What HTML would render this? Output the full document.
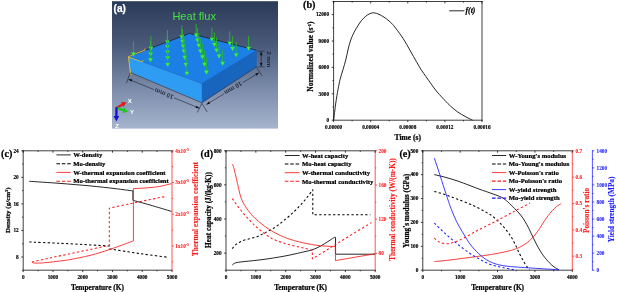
<!DOCTYPE html>
<html><head><meta charset="utf-8"><title>Figure</title>
<style>html,body{margin:0;padding:0;background:#fff}svg{display:block;filter:blur(0.27px)}</style>
</head><body>
<svg width="617" height="292" viewBox="0 0 617 292">
<defs>
<linearGradient id="bg" x1="0" y1="0" x2="0" y2="1"><stop offset="0" stop-color="#2b3a57"/><stop offset="0.35" stop-color="#4a5a7a"/><stop offset="0.7" stop-color="#7d8dac"/><stop offset="1" stop-color="#a6b4cd"/></linearGradient>
</defs>
<rect width="617" height="292" fill="#fff"/>
<g id="pa">
<rect x="112" y="1.2" width="166" height="127.4" fill="url(#bg)"/>
<polygon points="128.7,56.6 189.5,33.4 256.7,50.3 201.8,83.6" fill="#1b7fe6" />
<polygon points="128.7,56.6 201.8,83.6 201.8,102.8 130.2,72.4" fill="#2f9cf4" />
<polygon points="201.8,83.6 256.7,50.3 256.7,66.8 201.8,102.8" fill="#1865bd" />
<path d="M128.7 56.6 L189.5 33.4 L256.7 50.3" fill="none" stroke="#1c2233" stroke-width="0.8" stroke-linejoin="round" />
<path d="M130.2 72.4 L201.8 102.8" fill="none" stroke="#4c4a5a" stroke-width="0.9" stroke-linejoin="round" />
<path d="M201.8 102.8 L256.7 66.8" fill="none" stroke="#2a3550" stroke-width="0.7" stroke-linejoin="round" />
<path d="M128.7 56.6 L201.8 83.6 L256.7 50.3" fill="none" stroke="#1668c8" stroke-width="0.6" stroke-linejoin="round" />
<path d="M130.5 73.4 L128.4 56.7 L144.8 50.2" fill="none" stroke="#e6c42a" stroke-width="0.9" stroke-linejoin="round" />
<path d="M128.6 57 L142.3 61.9" fill="none" stroke="#e6c42a" stroke-width="0.8" stroke-linejoin="round" />
<line x1="144.8" y1="50.6" x2="145" y2="48.6" stroke="#e6c42a" stroke-width="0.8" />
<line x1="142.3" y1="61.9" x2="143.2" y2="60" stroke="#e6c42a" stroke-width="0.8" />
<line x1="130.5" y1="73.4" x2="131.2" y2="75.2" stroke="#e6c42a" stroke-width="0.9" />
<line x1="196.2" y1="23.78" x2="196.2" y2="35.3" stroke="#2cb82c" stroke-width="1.0" stroke-opacity="0.85"/>
<polygon points="193.9,33.6 198.5,33.6 196.2,37.5" fill="#3af03a" />
<line x1="181.8" y1="25.34" x2="181.8" y2="37" stroke="#2cb82c" stroke-width="1.0" stroke-opacity="0.85"/>
<polygon points="179.5,35.3 184.1,35.3 181.8,39.2" fill="#3af03a" />
<line x1="211.9" y1="27.55" x2="211.9" y2="39.4" stroke="#2cb82c" stroke-width="1.0" stroke-opacity="0.85"/>
<polygon points="209.6,37.7 214.2,37.7 211.9,41.6" fill="#3af03a" />
<line x1="197.5" y1="28.38" x2="197.5" y2="40.3" stroke="#2cb82c" stroke-width="1.0" stroke-opacity="0.85"/>
<polygon points="195.2,38.6 199.8,38.6 197.5,42.5" fill="#3af03a" />
<line x1="182.5" y1="29.48" x2="182.5" y2="41.5" stroke="#2cb82c" stroke-width="1.0" stroke-opacity="0.85"/>
<polygon points="180.2,39.8 184.8,39.8 182.5,43.7" fill="#3af03a" />
<line x1="167.4" y1="30.03" x2="167.4" y2="42.1" stroke="#2cb82c" stroke-width="1.0" stroke-opacity="0.85"/>
<polygon points="165.1,40.4 169.7,40.4 167.4,44.3" fill="#3af03a" />
<line x1="229.7" y1="31.32" x2="229.7" y2="43.5" stroke="#2cb82c" stroke-width="1.0" stroke-opacity="0.85"/>
<polygon points="227.4,41.8 232,41.8 229.7,45.7" fill="#3af03a" />
<line x1="214.4" y1="32.33" x2="214.4" y2="44.6" stroke="#2cb82c" stroke-width="1.0" stroke-opacity="0.85"/>
<polygon points="212.1,42.9 216.7,42.9 214.4,46.8" fill="#3af03a" />
<line x1="198.8" y1="33.16" x2="198.8" y2="45.5" stroke="#2cb82c" stroke-width="1.0" stroke-opacity="0.85"/>
<polygon points="196.5,43.8 201.1,43.8 198.8,47.7" fill="#3af03a" />
<line x1="183.2" y1="33.9" x2="183.2" y2="46.3" stroke="#2cb82c" stroke-width="1.0" stroke-opacity="0.85"/>
<polygon points="180.9,44.6 185.5,44.6 183.2,48.5" fill="#3af03a" />
<line x1="167.4" y1="34.45" x2="167.4" y2="46.9" stroke="#2cb82c" stroke-width="1.0" stroke-opacity="0.85"/>
<polygon points="165.1,45.2 169.7,45.2 167.4,49.1" fill="#3af03a" />
<line x1="150.9" y1="35.92" x2="150.9" y2="48.5" stroke="#2cb82c" stroke-width="1.0" stroke-opacity="0.85"/>
<polygon points="148.6,46.8 153.2,46.8 150.9,50.7" fill="#3af03a" />
<line x1="248.6" y1="35.92" x2="248.6" y2="48.5" stroke="#2cb82c" stroke-width="1.0" stroke-opacity="0.85"/>
<polygon points="246.3,46.8 250.9,46.8 248.6,50.7" fill="#3af03a" />
<line x1="232.6" y1="36.2" x2="232.6" y2="48.8" stroke="#2cb82c" stroke-width="1.0" stroke-opacity="0.85"/>
<polygon points="230.3,47.1 234.9,47.1 232.6,51" fill="#3af03a" />
<line x1="216.5" y1="37.67" x2="216.5" y2="50.4" stroke="#2cb82c" stroke-width="1.0" stroke-opacity="0.85"/>
<polygon points="214.2,48.7 218.8,48.7 216.5,52.6" fill="#3af03a" />
<line x1="200.4" y1="38.4" x2="200.4" y2="51.2" stroke="#2cb82c" stroke-width="1.0" stroke-opacity="0.85"/>
<polygon points="198.1,49.5 202.7,49.5 200.4,53.4" fill="#3af03a" />
<line x1="184" y1="38.5" x2="184" y2="51.3" stroke="#2cb82c" stroke-width="1.0" stroke-opacity="0.85"/>
<polygon points="181.7,49.6 186.3,49.6 184,53.5" fill="#3af03a" />
<line x1="167.5" y1="39.23" x2="167.5" y2="52.1" stroke="#2cb82c" stroke-width="1.0" stroke-opacity="0.85"/>
<polygon points="165.2,50.4 169.8,50.4 167.5,54.3" fill="#3af03a" />
<line x1="133.4" y1="41.26" x2="133.4" y2="54.3" stroke="#2cb82c" stroke-width="1.0" stroke-opacity="0.85"/>
<polygon points="131.1,52.6 135.7,52.6 133.4,56.5" fill="#3af03a" />
<line x1="150.7" y1="41.26" x2="150.7" y2="54.3" stroke="#2cb82c" stroke-width="1.0" stroke-opacity="0.85"/>
<polygon points="148.4,52.6 153,52.6 150.7,56.5" fill="#3af03a" />
<line x1="236.2" y1="41.99" x2="236.2" y2="55.1" stroke="#2cb82c" stroke-width="1.0" stroke-opacity="0.85"/>
<polygon points="233.9,53.4 238.5,53.4 236.2,57.3" fill="#3af03a" />
<line x1="219" y1="43" x2="219" y2="56.2" stroke="#2cb82c" stroke-width="1.0" stroke-opacity="0.85"/>
<polygon points="216.7,54.5 221.3,54.5 219,58.4" fill="#3af03a" />
<line x1="202.4" y1="43.74" x2="202.4" y2="57" stroke="#2cb82c" stroke-width="1.0" stroke-opacity="0.85"/>
<polygon points="200.1,55.3 204.7,55.3 202.4,59.2" fill="#3af03a" />
<line x1="184.8" y1="44.2" x2="184.8" y2="57.5" stroke="#2cb82c" stroke-width="1.0" stroke-opacity="0.85"/>
<polygon points="182.5,55.8 187.1,55.8 184.8,59.7" fill="#3af03a" />
<line x1="167.6" y1="44.66" x2="167.6" y2="58" stroke="#2cb82c" stroke-width="1.0" stroke-opacity="0.85"/>
<polygon points="165.3,56.3 169.9,56.3 167.6,60.2" fill="#3af03a" />
<line x1="150.5" y1="46.5" x2="150.5" y2="60" stroke="#2cb82c" stroke-width="1.0" stroke-opacity="0.85"/>
<polygon points="148.2,58.3 152.8,58.3 150.5,62.2" fill="#3af03a" />
<line x1="222.6" y1="49.72" x2="222.6" y2="63.5" stroke="#2cb82c" stroke-width="1.0" stroke-opacity="0.85"/>
<polygon points="220.3,61.8 224.9,61.8 222.6,65.7" fill="#3af03a" />
<line x1="204.5" y1="50.55" x2="204.5" y2="64.4" stroke="#2cb82c" stroke-width="1.0" stroke-opacity="0.85"/>
<polygon points="202.2,62.7 206.8,62.7 204.5,66.6" fill="#3af03a" />
<line x1="167.7" y1="50.73" x2="167.7" y2="64.6" stroke="#2cb82c" stroke-width="1.0" stroke-opacity="0.85"/>
<polygon points="165.4,62.9 170,62.9 167.7,66.8" fill="#3af03a" />
<line x1="185.9" y1="50.82" x2="185.9" y2="64.7" stroke="#2cb82c" stroke-width="1.0" stroke-opacity="0.85"/>
<polygon points="183.6,63 188.2,63 185.9,66.9" fill="#3af03a" />
<line x1="206.5" y1="57.82" x2="206.5" y2="72.3" stroke="#2cb82c" stroke-width="1.0" stroke-opacity="0.85"/>
<polygon points="204.2,70.6 208.8,70.6 206.5,74.5" fill="#3af03a" />
<line x1="186.9" y1="58.83" x2="186.9" y2="73.4" stroke="#2cb82c" stroke-width="1.0" stroke-opacity="0.85"/>
<polygon points="184.6,71.7 189.2,71.7 186.9,75.6" fill="#3af03a" />
<line x1="128.5" y1="79.2" x2="154.02" y2="89.64" stroke="#1e2230" stroke-width="0.6" />
<line x1="174.01" y1="97.81" x2="199.4" y2="108.2" stroke="#1e2230" stroke-width="0.6" />
<polygon points="128.5,79.2 131.34,81.77 132.32,79.36" fill="#0d0f18" />
<polygon points="199.4,108.2 195.58,108.04 196.56,105.63" fill="#0d0f18" />
<text x="163.9" y="94" font-family='"Liberation Sans", sans-serif' font-size="6.2" font-weight="bold" fill="#1a1e2c" text-anchor="middle" transform="rotate(202.3 163.9 94)" dominant-baseline="central" fill-opacity="0.88">10 mm</text>
<line x1="206.4" y1="104.5" x2="224.07" y2="93.85" stroke="#1e2230" stroke-width="0.6" />
<line x1="242.57" y1="82.7" x2="259" y2="72.8" stroke="#1e2230" stroke-width="0.6" />
<polygon points="206.4,104.5 210.15,103.76 208.81,101.53" fill="#0d0f18" />
<polygon points="259,72.8 256.59,75.77 255.25,73.54" fill="#0d0f18" />
<text x="233.4" y="88.4" font-family='"Liberation Sans", sans-serif' font-size="6.2" font-weight="bold" fill="#1a1e2c" text-anchor="middle" transform="rotate(149 233.4 88.4)" dominant-baseline="central" fill-opacity="0.88">10 mm</text>
<line x1="130.2" y1="72.9" x2="126.4" y2="83.2" stroke="#1e2230" stroke-width="0.6" />
<line x1="201.8" y1="103.3" x2="197.4" y2="112.4" stroke="#1e2230" stroke-width="0.6" />
<line x1="201.8" y1="103.3" x2="207.2" y2="112" stroke="#1e2230" stroke-width="0.6" />
<line x1="256.7" y1="67.3" x2="262.2" y2="76" stroke="#1e2230" stroke-width="0.6" />
<line x1="261.2" y1="51.4" x2="261.2" y2="66.5" stroke="#1e2230" stroke-width="0.6" />
<line x1="257.5" y1="51.2" x2="264.5" y2="51.2" stroke="#1e2230" stroke-width="0.5" />
<line x1="257.5" y1="66.8" x2="264.5" y2="66.8" stroke="#1e2230" stroke-width="0.5" />
<polygon points="261.2,51.6 259.9,55.2 262.5,55.2" fill="#0d0f18" />
<polygon points="261.2,66.4 259.9,62.8 262.5,62.8" fill="#0d0f18" />
<text x="269.8" y="59.3" font-family='"Liberation Sans", sans-serif' font-size="6.2" font-weight="bold" fill="#1a1e2c" text-anchor="middle" transform="rotate(90 269.8 59.3)" dominant-baseline="central" fill-opacity="0.88">2 mm</text>
<line x1="116.4" y1="107.9" x2="122.6" y2="104.5" stroke="#e41a1a" stroke-width="2.3" />
<polygon points="126.6,102.2 121,102 123.2,106.9" fill="#e41a1a" />
<line x1="116.4" y1="107.9" x2="124" y2="110.3" stroke="#1cc81c" stroke-width="2.3" />
<polygon points="128,111.4 123.9,107.6 122.6,112.9" fill="#1cc81c" />
<line x1="116.4" y1="107.3" x2="116.4" y2="116.6" stroke="#1212d8" stroke-width="2.3" />
<polygon points="116.4,121.6 113.6,116 119.2,116" fill="#1212d8" />
<text x="129.7" y="103.3" font-family='"Liberation Sans", sans-serif' font-size="6" font-weight="bold" fill="#fff" text-anchor="middle" >X</text>
<text x="132" y="114.2" font-family='"Liberation Sans", sans-serif' font-size="6" font-weight="bold" fill="#fff" text-anchor="middle" >Y</text>
<text x="117" y="128" font-family='"Liberation Sans", sans-serif' font-size="6" font-weight="bold" fill="#fff" text-anchor="middle" >Z</text>
<text x="113.6" y="11.6" font-family='"Liberation Sans", sans-serif' font-size="10" font-weight="bold" fill="#fff" text-anchor="start" stroke="#fff" stroke-width="0.25">(a)</text>
<text x="172.4" y="20.1" font-family='"Liberation Sans", sans-serif' font-size="11.2" font-weight="normal" fill="#40e640" text-anchor="start" textLength="43.6" lengthAdjust="spacingAndGlyphs">Heat flux</text>
</g>
<g id="pb">
<path d="M333.6 1.5 L333.6 120.2 L482 120.2" fill="none" stroke="#000" stroke-width="0.75" stroke-linejoin="round" stroke-linecap="square"/>
<line x1="333.6" y1="1.5" x2="482" y2="1.5" stroke="#000" stroke-width="0.75" stroke-linecap="square"/>
<line x1="482" y1="1.5" x2="482" y2="120.2" stroke="#000" stroke-width="0.75" stroke-linecap="square"/>
<line x1="333.6" y1="120.2" x2="333.6" y2="122.1" stroke="#000" stroke-width="0.75" />
<line x1="333.6" y1="1.5" x2="333.6" y2="3.4" stroke="#000" stroke-width="0.75" />
<text x="333.6" y="128.5" font-family='"Liberation Serif", serif' font-size="5.25" font-weight="bold" fill="#000" text-anchor="middle" stroke="#000" stroke-width="0.16" >0.00000</text>
<line x1="352.15" y1="120.2" x2="352.15" y2="121.3" stroke="#000" stroke-width="0.75" />
<line x1="352.15" y1="1.5" x2="352.15" y2="2.6" stroke="#000" stroke-width="0.75" />
<line x1="370.7" y1="120.2" x2="370.7" y2="122.1" stroke="#000" stroke-width="0.75" />
<line x1="370.7" y1="1.5" x2="370.7" y2="3.4" stroke="#000" stroke-width="0.75" />
<text x="370.7" y="128.5" font-family='"Liberation Serif", serif' font-size="5.25" font-weight="bold" fill="#000" text-anchor="middle" stroke="#000" stroke-width="0.16" >0.00004</text>
<line x1="389.25" y1="120.2" x2="389.25" y2="121.3" stroke="#000" stroke-width="0.75" />
<line x1="389.25" y1="1.5" x2="389.25" y2="2.6" stroke="#000" stroke-width="0.75" />
<line x1="407.8" y1="120.2" x2="407.8" y2="122.1" stroke="#000" stroke-width="0.75" />
<line x1="407.8" y1="1.5" x2="407.8" y2="3.4" stroke="#000" stroke-width="0.75" />
<text x="407.8" y="128.5" font-family='"Liberation Serif", serif' font-size="5.25" font-weight="bold" fill="#000" text-anchor="middle" stroke="#000" stroke-width="0.16" >0.00008</text>
<line x1="426.35" y1="120.2" x2="426.35" y2="121.3" stroke="#000" stroke-width="0.75" />
<line x1="426.35" y1="1.5" x2="426.35" y2="2.6" stroke="#000" stroke-width="0.75" />
<line x1="444.9" y1="120.2" x2="444.9" y2="122.1" stroke="#000" stroke-width="0.75" />
<line x1="444.9" y1="1.5" x2="444.9" y2="3.4" stroke="#000" stroke-width="0.75" />
<text x="444.9" y="128.5" font-family='"Liberation Serif", serif' font-size="5.25" font-weight="bold" fill="#000" text-anchor="middle" stroke="#000" stroke-width="0.16" >0.00012</text>
<line x1="463.45" y1="120.2" x2="463.45" y2="121.3" stroke="#000" stroke-width="0.75" />
<line x1="463.45" y1="1.5" x2="463.45" y2="2.6" stroke="#000" stroke-width="0.75" />
<line x1="482" y1="120.2" x2="482" y2="122.1" stroke="#000" stroke-width="0.75" />
<line x1="482" y1="1.5" x2="482" y2="3.4" stroke="#000" stroke-width="0.75" />
<text x="482" y="128.5" font-family='"Liberation Serif", serif' font-size="5.25" font-weight="bold" fill="#000" text-anchor="middle" stroke="#000" stroke-width="0.16" >0.00016</text>
<line x1="333.6" y1="120.2" x2="331.7" y2="120.2" stroke="#000" stroke-width="0.75" />
<text x="329.1" y="122" font-family='"Liberation Serif", serif' font-size="5.25" font-weight="bold" fill="#000" text-anchor="end" stroke="#000" stroke-width="0.16" >0</text>
<line x1="333.6" y1="93.8" x2="331.7" y2="93.8" stroke="#000" stroke-width="0.75" />
<text x="329.1" y="95.6" font-family='"Liberation Serif", serif' font-size="5.25" font-weight="bold" fill="#000" text-anchor="end" stroke="#000" stroke-width="0.16" >3000</text>
<line x1="333.6" y1="67.4" x2="331.7" y2="67.4" stroke="#000" stroke-width="0.75" />
<text x="329.1" y="69.2" font-family='"Liberation Serif", serif' font-size="5.25" font-weight="bold" fill="#000" text-anchor="end" stroke="#000" stroke-width="0.16" >6000</text>
<line x1="333.6" y1="41" x2="331.7" y2="41" stroke="#000" stroke-width="0.75" />
<text x="329.1" y="42.8" font-family='"Liberation Serif", serif' font-size="5.25" font-weight="bold" fill="#000" text-anchor="end" stroke="#000" stroke-width="0.16" >9000</text>
<line x1="333.6" y1="14.6" x2="331.7" y2="14.6" stroke="#000" stroke-width="0.75" />
<text x="329.1" y="16.4" font-family='"Liberation Serif", serif' font-size="5.25" font-weight="bold" fill="#000" text-anchor="end" stroke="#000" stroke-width="0.16" >12000</text>
<line x1="333.6" y1="107" x2="332.5" y2="107" stroke="#000" stroke-width="0.75" />
<line x1="333.6" y1="80.6" x2="332.5" y2="80.6" stroke="#000" stroke-width="0.75" />
<line x1="333.6" y1="54.2" x2="332.5" y2="54.2" stroke="#000" stroke-width="0.75" />
<line x1="333.6" y1="27.8" x2="332.5" y2="27.8" stroke="#000" stroke-width="0.75" />
<line x1="333.6" y1="1.4" x2="332.5" y2="1.4" stroke="#000" stroke-width="0.75" />
<path d="M333.6 120.2 C333.97 117.33 335.07 108.12 335.8 103 C336.53 97.88 337.27 93.5 338 89.5 C338.73 85.5 339.37 82.33 340.2 79 C341.03 75.67 342.07 72.7 343 69.5 C343.93 66.3 344.93 63.22 345.8 59.8 C346.67 56.38 347.38 52.3 348.2 49 C349.02 45.7 349.73 42.75 350.7 40 C351.67 37.25 352.82 34.85 354 32.5 C355.18 30.15 356.53 27.92 357.8 25.9 C359.07 23.88 360.27 22.02 361.6 20.4 C362.93 18.78 364.5 17.28 365.8 16.2 C367.1 15.12 368.23 14.47 369.4 13.9 C370.57 13.33 371.6 12.88 372.8 12.8 C374 12.72 375.15 12.93 376.6 13.4 C378.05 13.87 379.85 14.68 381.5 15.6 C383.15 16.52 384.82 17.62 386.5 18.9 C388.18 20.18 390.02 21.68 391.6 23.3 C393.18 24.92 394.07 26.05 396 28.6 C397.93 31.15 400.8 34.87 403.2 38.6 C405.6 42.33 408.2 47.17 410.4 51 C412.6 54.83 414.6 58.47 416.4 61.6 C418.2 64.73 419.6 67.3 421.2 69.8 C422.8 72.3 424.32 74.2 426 76.6 C427.68 79 429.43 81.63 431.3 84.2 C433.17 86.77 434.75 89.1 437.2 92 C439.65 94.9 443.53 99.03 446 101.6 C448.47 104.17 450.03 105.67 452 107.4 C453.97 109.13 455.63 110.5 457.8 112 C459.97 113.5 462.53 115.03 465 116.4 C467.47 117.77 471.33 119.57 472.6 120.2" fill="none" stroke="#000" stroke-width="0.85" stroke-linejoin="round" />
<line x1="449.2" y1="10.8" x2="464.4" y2="10.8" stroke="#000" stroke-width="0.85" />
<text x="465.6" y="13" font-family='"Liberation Serif", serif' font-size="7.6" font-weight="bold" fill="#000" text-anchor="start" font-style="italic" stroke="#000" stroke-width="0.22" >f(t)</text>
<text x="303" y="8" font-family='"Liberation Serif", serif' font-size="10.2" font-weight="bold" fill="#000" text-anchor="start" stroke="#000" stroke-width="0.22" >(b)</text>
<text x="407.8" y="140.3" font-family='"Liberation Serif", serif' font-size="7.55" font-weight="bold" fill="#000" text-anchor="middle" stroke="#000" stroke-width="0.22" >Time (s)</text>
<text x="313.3" y="56.6" font-family='"Liberation Serif", serif' font-size="7.55" font-weight="bold" fill="#000" text-anchor="middle" stroke="#000" stroke-width="0.22" transform="rotate(-90 313.3 56.6)" >Normalized value (s<tspan dy="-2.5" font-size="4.4">-1</tspan><tspan dy="2.5" font-size="7.55">)</tspan></text>
</g>
<g id="pc">
<path d="M23.2 150.8 L23.2 270.2 L172 270.2" fill="none" stroke="#000" stroke-width="0.75" stroke-linejoin="round" stroke-linecap="square"/>
<line x1="23.2" y1="150.8" x2="172" y2="150.8" stroke="#000" stroke-width="0.75" stroke-linecap="square"/>
<line x1="172" y1="150.8" x2="172" y2="270.2" stroke="#ff1a1a" stroke-width="0.75" stroke-linecap="square"/>
<line x1="23.2" y1="270.2" x2="23.2" y2="272.1" stroke="#000" stroke-width="0.75" />
<line x1="23.2" y1="150.8" x2="23.2" y2="152.7" stroke="#000" stroke-width="0.75" />
<text x="23.2" y="278.5" font-family='"Liberation Serif", serif' font-size="5.25" font-weight="bold" fill="#000" text-anchor="middle" stroke="#000" stroke-width="0.16" >0</text>
<line x1="38.08" y1="270.2" x2="38.08" y2="271.3" stroke="#000" stroke-width="0.75" />
<line x1="38.08" y1="150.8" x2="38.08" y2="151.9" stroke="#000" stroke-width="0.75" />
<line x1="52.96" y1="270.2" x2="52.96" y2="272.1" stroke="#000" stroke-width="0.75" />
<line x1="52.96" y1="150.8" x2="52.96" y2="152.7" stroke="#000" stroke-width="0.75" />
<text x="52.96" y="278.5" font-family='"Liberation Serif", serif' font-size="5.25" font-weight="bold" fill="#000" text-anchor="middle" stroke="#000" stroke-width="0.16" >1000</text>
<line x1="67.84" y1="270.2" x2="67.84" y2="271.3" stroke="#000" stroke-width="0.75" />
<line x1="67.84" y1="150.8" x2="67.84" y2="151.9" stroke="#000" stroke-width="0.75" />
<line x1="82.72" y1="270.2" x2="82.72" y2="272.1" stroke="#000" stroke-width="0.75" />
<line x1="82.72" y1="150.8" x2="82.72" y2="152.7" stroke="#000" stroke-width="0.75" />
<text x="82.72" y="278.5" font-family='"Liberation Serif", serif' font-size="5.25" font-weight="bold" fill="#000" text-anchor="middle" stroke="#000" stroke-width="0.16" >2000</text>
<line x1="97.6" y1="270.2" x2="97.6" y2="271.3" stroke="#000" stroke-width="0.75" />
<line x1="97.6" y1="150.8" x2="97.6" y2="151.9" stroke="#000" stroke-width="0.75" />
<line x1="112.48" y1="270.2" x2="112.48" y2="272.1" stroke="#000" stroke-width="0.75" />
<line x1="112.48" y1="150.8" x2="112.48" y2="152.7" stroke="#000" stroke-width="0.75" />
<text x="112.48" y="278.5" font-family='"Liberation Serif", serif' font-size="5.25" font-weight="bold" fill="#000" text-anchor="middle" stroke="#000" stroke-width="0.16" >3000</text>
<line x1="127.36" y1="270.2" x2="127.36" y2="271.3" stroke="#000" stroke-width="0.75" />
<line x1="127.36" y1="150.8" x2="127.36" y2="151.9" stroke="#000" stroke-width="0.75" />
<line x1="142.24" y1="270.2" x2="142.24" y2="272.1" stroke="#000" stroke-width="0.75" />
<line x1="142.24" y1="150.8" x2="142.24" y2="152.7" stroke="#000" stroke-width="0.75" />
<text x="142.24" y="278.5" font-family='"Liberation Serif", serif' font-size="5.25" font-weight="bold" fill="#000" text-anchor="middle" stroke="#000" stroke-width="0.16" >4000</text>
<line x1="157.12" y1="270.2" x2="157.12" y2="271.3" stroke="#000" stroke-width="0.75" />
<line x1="157.12" y1="150.8" x2="157.12" y2="151.9" stroke="#000" stroke-width="0.75" />
<line x1="172" y1="270.2" x2="172" y2="272.1" stroke="#000" stroke-width="0.75" />
<line x1="172" y1="150.8" x2="172" y2="152.7" stroke="#000" stroke-width="0.75" />
<text x="172" y="278.5" font-family='"Liberation Serif", serif' font-size="5.25" font-weight="bold" fill="#000" text-anchor="middle" stroke="#000" stroke-width="0.16" >5000</text>
<line x1="23.2" y1="150.8" x2="21.3" y2="150.8" stroke="#000" stroke-width="0.75" />
<text x="18.7" y="152.6" font-family='"Liberation Serif", serif' font-size="5.25" font-weight="bold" fill="#000" text-anchor="end" stroke="#000" stroke-width="0.16" >24</text>
<line x1="23.2" y1="177.35" x2="21.3" y2="177.35" stroke="#000" stroke-width="0.75" />
<text x="18.7" y="179.15" font-family='"Liberation Serif", serif' font-size="5.25" font-weight="bold" fill="#000" text-anchor="end" stroke="#000" stroke-width="0.16" >20</text>
<line x1="23.2" y1="203.9" x2="21.3" y2="203.9" stroke="#000" stroke-width="0.75" />
<text x="18.7" y="205.7" font-family='"Liberation Serif", serif' font-size="5.25" font-weight="bold" fill="#000" text-anchor="end" stroke="#000" stroke-width="0.16" >16</text>
<line x1="23.2" y1="230.45" x2="21.3" y2="230.45" stroke="#000" stroke-width="0.75" />
<text x="18.7" y="232.25" font-family='"Liberation Serif", serif' font-size="5.25" font-weight="bold" fill="#000" text-anchor="end" stroke="#000" stroke-width="0.16" >12</text>
<line x1="23.2" y1="257" x2="21.3" y2="257" stroke="#000" stroke-width="0.75" />
<text x="18.7" y="258.8" font-family='"Liberation Serif", serif' font-size="5.25" font-weight="bold" fill="#000" text-anchor="end" stroke="#000" stroke-width="0.16" >8</text>
<line x1="23.2" y1="164.07" x2="22.1" y2="164.07" stroke="#000" stroke-width="0.75" />
<line x1="23.2" y1="190.62" x2="22.1" y2="190.62" stroke="#000" stroke-width="0.75" />
<line x1="23.2" y1="217.17" x2="22.1" y2="217.17" stroke="#000" stroke-width="0.75" />
<line x1="23.2" y1="243.72" x2="22.1" y2="243.72" stroke="#000" stroke-width="0.75" />
<line x1="23.2" y1="270.27" x2="22.1" y2="270.27" stroke="#000" stroke-width="0.75" />
<line x1="172" y1="150.8" x2="173.9" y2="150.8" stroke="#ff1a1a" stroke-width="0.75" />
<text x="175.3" y="152.6" font-family='"Liberation Serif", serif' font-size="5.25" font-weight="bold" fill="#ff1a1a" text-anchor="start" stroke="#ff1a1a" stroke-width="0.08" >4x10<tspan dy="-1.9" font-size="3.9">-5</tspan></text>
<line x1="172" y1="182.5" x2="173.9" y2="182.5" stroke="#ff1a1a" stroke-width="0.75" />
<text x="175.3" y="184.3" font-family='"Liberation Serif", serif' font-size="5.25" font-weight="bold" fill="#ff1a1a" text-anchor="start" stroke="#ff1a1a" stroke-width="0.08" >3x10<tspan dy="-1.9" font-size="3.9">-5</tspan></text>
<line x1="172" y1="214.2" x2="173.9" y2="214.2" stroke="#ff1a1a" stroke-width="0.75" />
<text x="175.3" y="216" font-family='"Liberation Serif", serif' font-size="5.25" font-weight="bold" fill="#ff1a1a" text-anchor="start" stroke="#ff1a1a" stroke-width="0.08" >2x10<tspan dy="-1.9" font-size="3.9">-5</tspan></text>
<line x1="172" y1="245.9" x2="173.9" y2="245.9" stroke="#ff1a1a" stroke-width="0.75" />
<text x="175.3" y="247.7" font-family='"Liberation Serif", serif' font-size="5.25" font-weight="bold" fill="#ff1a1a" text-anchor="start" stroke="#ff1a1a" stroke-width="0.08" >1x10<tspan dy="-1.9" font-size="3.9">-5</tspan></text>
<line x1="172" y1="166.65" x2="173.1" y2="166.65" stroke="#ff1a1a" stroke-width="0.75" />
<line x1="172" y1="198.35" x2="173.1" y2="198.35" stroke="#ff1a1a" stroke-width="0.75" />
<line x1="172" y1="230.05" x2="173.1" y2="230.05" stroke="#ff1a1a" stroke-width="0.75" />
<line x1="172" y1="261.75" x2="173.1" y2="261.75" stroke="#ff1a1a" stroke-width="0.75" />
<path d="M29.3 181.3 C34.42 181.65 49.88 182.63 60 183.4 C70.12 184.17 80.83 185.03 90 185.9 C99.17 186.77 107.85 187.77 115 188.6 C122.15 189.43 129.92 190.52 132.9 190.9 L132.9 200.3 C135.75 201.08 143.57 203.15 150 205 C156.43 206.85 167.92 210.33 171.5 211.4" fill="none" stroke="#000" stroke-width="0.85" stroke-linejoin="round" />
<path d="M29.3 242 C34.42 242.22 49.88 242.82 60 243.3 C70.12 243.78 81.8 244.45 90 244.9 C98.2 245.35 106 245.82 109.2 246 L109.4 248.9 C114.5 249.68 130.23 252.2 140 253.6 C149.77 255 163.33 256.68 168 257.3" fill="none" stroke="#000" stroke-width="1.05" stroke-linejoin="round" stroke-dasharray="2.3 2.3" />
<path d="M31.9 262.2 C32.15 262.32 32.72 262.79 33.4 262.95 C34.08 263.11 34.77 263.14 36 263.15 C37.23 263.16 39.38 263.07 40.8 263 C42.22 262.93 42.97 262.83 44.5 262.7 C46.03 262.57 47.92 262.42 50 262.2 C52.08 261.98 54.67 261.68 57 261.4 C59.33 261.12 61.83 260.8 64 260.5 C66.17 260.2 67.48 260.05 70 259.6 C72.52 259.15 75.77 258.5 79.1 257.8 C82.43 257.1 86.52 256.27 90 255.4 C93.48 254.53 96.8 253.57 100 252.6 C103.2 251.63 105.87 250.73 109.2 249.6 C112.53 248.47 115.97 247.25 120 245.8 C124.03 244.35 131.17 241.72 133.4 240.9 L133.4 188.6 C134.83 188.53 139.23 188.37 142 188.2 C144.77 188.03 147.33 187.85 150 187.6 C152.67 187.35 155.67 187.05 158 186.7 C160.33 186.35 161.75 186.02 164 185.5 C166.25 184.98 170.25 183.92 171.5 183.6" fill="none" stroke="#ff1a1a" stroke-width="0.85" stroke-linejoin="round" />
<path d="M31.9 262 C34.92 261.33 43.65 259.38 50 258 C56.35 256.62 63.33 255.12 70 253.7 C76.67 252.28 83.45 250.88 90 249.5 C96.55 248.12 106.08 246.08 109.3 245.4 L109.3 208.2 C112.75 207.47 123.22 205.23 130 203.8 C136.78 202.37 143.88 200.87 150 199.6 C156.12 198.33 163.92 196.77 166.7 196.2" fill="none" stroke="#ff1a1a" stroke-width="1.05" stroke-linejoin="round" stroke-dasharray="2.3 2.3" />
<line x1="56.4" y1="154.9" x2="70.8" y2="154.9" stroke="#000" stroke-width="0.85" />
<text x="73.2" y="157.1" font-family='"Liberation Serif", serif' font-size="6.68" font-weight="bold" fill="#000" text-anchor="start" stroke="#000" stroke-width="0.22" >W-density</text>
<line x1="56.4" y1="163.7" x2="70.8" y2="163.7" stroke="#000" stroke-width="1.05" stroke-dasharray="3.6 1.8"/>
<text x="73.2" y="165.9" font-family='"Liberation Serif", serif' font-size="6.68" font-weight="bold" fill="#000" text-anchor="start" stroke="#000" stroke-width="0.22" >Mo-density</text>
<line x1="56.4" y1="172.4" x2="70.8" y2="172.4" stroke="#ff1a1a" stroke-width="0.85" />
<text x="73.2" y="174.6" font-family='"Liberation Serif", serif' font-size="6.68" font-weight="bold" fill="#000" text-anchor="start" stroke="#000" stroke-width="0.22" >W-thermal expansion coefficient</text>
<line x1="56.4" y1="181.2" x2="70.8" y2="181.2" stroke="#ff1a1a" stroke-width="1.05" stroke-dasharray="3.6 1.8"/>
<text x="73.2" y="183.4" font-family='"Liberation Serif", serif' font-size="6.68" font-weight="bold" fill="#000" text-anchor="start" stroke="#000" stroke-width="0.22" >Mo-thermal expansion coefficient</text>
<text x="1" y="157" font-family='"Liberation Serif", serif' font-size="10.2" font-weight="bold" fill="#000" text-anchor="start" stroke="#000" stroke-width="0.22" >(c)</text>
<text x="97.4" y="290" font-family='"Liberation Serif", serif' font-size="7.3" font-weight="bold" fill="#000" text-anchor="middle" stroke="#000" stroke-width="0.22" >Temperature (K)</text>
<text x="9.9" y="210.3" font-family='"Liberation Serif", serif' font-size="7.05" font-weight="bold" fill="#000" text-anchor="middle" stroke="#000" stroke-width="0.22" transform="rotate(-90 9.9 210.3)" >Density (g/cm<tspan dy="-2.2" font-size="4.0">3</tspan><tspan dy="2.2" font-size="7.05">)</tspan></text>
<text x="198.4" y="209" font-family='"Liberation Serif", serif' font-size="7.3" font-weight="bold" fill="#ff1a1a" text-anchor="middle" stroke="#ff1a1a" stroke-width="0.1" transform="rotate(-90 198.4 209)" >Thermal expansion coefficient</text>
</g>
<g id="pd">
<path d="M226 150.8 L226 270.2 L375.2 270.2" fill="none" stroke="#000" stroke-width="0.75" stroke-linejoin="round" stroke-linecap="square"/>
<line x1="226" y1="150.8" x2="375.2" y2="150.8" stroke="#000" stroke-width="0.75" stroke-linecap="square"/>
<line x1="375.2" y1="150.8" x2="375.2" y2="270.2" stroke="#ff1a1a" stroke-width="0.75" stroke-linecap="square"/>
<line x1="226" y1="270.2" x2="226" y2="272.1" stroke="#000" stroke-width="0.75" />
<line x1="226" y1="150.8" x2="226" y2="152.7" stroke="#000" stroke-width="0.75" />
<text x="226" y="278.5" font-family='"Liberation Serif", serif' font-size="5.25" font-weight="bold" fill="#000" text-anchor="middle" stroke="#000" stroke-width="0.16" >0</text>
<line x1="240.92" y1="270.2" x2="240.92" y2="271.3" stroke="#000" stroke-width="0.75" />
<line x1="240.92" y1="150.8" x2="240.92" y2="151.9" stroke="#000" stroke-width="0.75" />
<line x1="255.84" y1="270.2" x2="255.84" y2="272.1" stroke="#000" stroke-width="0.75" />
<line x1="255.84" y1="150.8" x2="255.84" y2="152.7" stroke="#000" stroke-width="0.75" />
<text x="255.84" y="278.5" font-family='"Liberation Serif", serif' font-size="5.25" font-weight="bold" fill="#000" text-anchor="middle" stroke="#000" stroke-width="0.16" >1000</text>
<line x1="270.76" y1="270.2" x2="270.76" y2="271.3" stroke="#000" stroke-width="0.75" />
<line x1="270.76" y1="150.8" x2="270.76" y2="151.9" stroke="#000" stroke-width="0.75" />
<line x1="285.68" y1="270.2" x2="285.68" y2="272.1" stroke="#000" stroke-width="0.75" />
<line x1="285.68" y1="150.8" x2="285.68" y2="152.7" stroke="#000" stroke-width="0.75" />
<text x="285.68" y="278.5" font-family='"Liberation Serif", serif' font-size="5.25" font-weight="bold" fill="#000" text-anchor="middle" stroke="#000" stroke-width="0.16" >2000</text>
<line x1="300.6" y1="270.2" x2="300.6" y2="271.3" stroke="#000" stroke-width="0.75" />
<line x1="300.6" y1="150.8" x2="300.6" y2="151.9" stroke="#000" stroke-width="0.75" />
<line x1="315.52" y1="270.2" x2="315.52" y2="272.1" stroke="#000" stroke-width="0.75" />
<line x1="315.52" y1="150.8" x2="315.52" y2="152.7" stroke="#000" stroke-width="0.75" />
<text x="315.52" y="278.5" font-family='"Liberation Serif", serif' font-size="5.25" font-weight="bold" fill="#000" text-anchor="middle" stroke="#000" stroke-width="0.16" >3000</text>
<line x1="330.44" y1="270.2" x2="330.44" y2="271.3" stroke="#000" stroke-width="0.75" />
<line x1="330.44" y1="150.8" x2="330.44" y2="151.9" stroke="#000" stroke-width="0.75" />
<line x1="345.36" y1="270.2" x2="345.36" y2="272.1" stroke="#000" stroke-width="0.75" />
<line x1="345.36" y1="150.8" x2="345.36" y2="152.7" stroke="#000" stroke-width="0.75" />
<text x="345.36" y="278.5" font-family='"Liberation Serif", serif' font-size="5.25" font-weight="bold" fill="#000" text-anchor="middle" stroke="#000" stroke-width="0.16" >4000</text>
<line x1="360.28" y1="270.2" x2="360.28" y2="271.3" stroke="#000" stroke-width="0.75" />
<line x1="360.28" y1="150.8" x2="360.28" y2="151.9" stroke="#000" stroke-width="0.75" />
<line x1="375.2" y1="270.2" x2="375.2" y2="272.1" stroke="#000" stroke-width="0.75" />
<line x1="375.2" y1="150.8" x2="375.2" y2="152.7" stroke="#000" stroke-width="0.75" />
<text x="375.2" y="278.5" font-family='"Liberation Serif", serif' font-size="5.25" font-weight="bold" fill="#000" text-anchor="middle" stroke="#000" stroke-width="0.16" >5000</text>
<line x1="226" y1="150.8" x2="224.1" y2="150.8" stroke="#000" stroke-width="0.75" />
<text x="221.5" y="152.6" font-family='"Liberation Serif", serif' font-size="5.25" font-weight="bold" fill="#000" text-anchor="end" stroke="#000" stroke-width="0.16" >800</text>
<line x1="226" y1="184.9" x2="224.1" y2="184.9" stroke="#000" stroke-width="0.75" />
<text x="221.5" y="186.7" font-family='"Liberation Serif", serif' font-size="5.25" font-weight="bold" fill="#000" text-anchor="end" stroke="#000" stroke-width="0.16" >600</text>
<line x1="226" y1="219" x2="224.1" y2="219" stroke="#000" stroke-width="0.75" />
<text x="221.5" y="220.8" font-family='"Liberation Serif", serif' font-size="5.25" font-weight="bold" fill="#000" text-anchor="end" stroke="#000" stroke-width="0.16" >400</text>
<line x1="226" y1="253.1" x2="224.1" y2="253.1" stroke="#000" stroke-width="0.75" />
<text x="221.5" y="254.9" font-family='"Liberation Serif", serif' font-size="5.25" font-weight="bold" fill="#000" text-anchor="end" stroke="#000" stroke-width="0.16" >200</text>
<line x1="226" y1="167.85" x2="224.9" y2="167.85" stroke="#000" stroke-width="0.75" />
<line x1="226" y1="201.95" x2="224.9" y2="201.95" stroke="#000" stroke-width="0.75" />
<line x1="226" y1="236.05" x2="224.9" y2="236.05" stroke="#000" stroke-width="0.75" />
<line x1="226" y1="270.15" x2="224.9" y2="270.15" stroke="#000" stroke-width="0.75" />
<line x1="375.2" y1="150.8" x2="377.1" y2="150.8" stroke="#ff1a1a" stroke-width="0.75" />
<text x="378.5" y="152.6" font-family='"Liberation Serif", serif' font-size="5.25" font-weight="bold" fill="#ff1a1a" text-anchor="start" stroke="#ff1a1a" stroke-width="0.08" >200</text>
<line x1="375.2" y1="185" x2="377.1" y2="185" stroke="#ff1a1a" stroke-width="0.75" />
<text x="378.5" y="186.8" font-family='"Liberation Serif", serif' font-size="5.25" font-weight="bold" fill="#ff1a1a" text-anchor="start" stroke="#ff1a1a" stroke-width="0.08" >160</text>
<line x1="375.2" y1="219.2" x2="377.1" y2="219.2" stroke="#ff1a1a" stroke-width="0.75" />
<text x="378.5" y="221" font-family='"Liberation Serif", serif' font-size="5.25" font-weight="bold" fill="#ff1a1a" text-anchor="start" stroke="#ff1a1a" stroke-width="0.08" >120</text>
<line x1="375.2" y1="253.4" x2="377.1" y2="253.4" stroke="#ff1a1a" stroke-width="0.75" />
<text x="378.5" y="255.2" font-family='"Liberation Serif", serif' font-size="5.25" font-weight="bold" fill="#ff1a1a" text-anchor="start" stroke="#ff1a1a" stroke-width="0.08" >80</text>
<line x1="375.2" y1="167.9" x2="376.3" y2="167.9" stroke="#ff1a1a" stroke-width="0.75" />
<line x1="375.2" y1="202.1" x2="376.3" y2="202.1" stroke="#ff1a1a" stroke-width="0.75" />
<line x1="375.2" y1="236.3" x2="376.3" y2="236.3" stroke="#ff1a1a" stroke-width="0.75" />
<path d="M232.3 265 C232.58 264.77 233.22 264.02 234 263.6 C234.78 263.18 235.33 262.83 237 262.5 C238.67 262.17 241.37 261.9 244 261.6 C246.63 261.3 249.63 261.05 252.8 260.7 C255.97 260.35 259.58 259.95 263 259.5 C266.42 259.05 269.63 258.58 273.3 258 C276.97 257.42 281.38 256.68 285 256 C288.62 255.32 291.67 254.63 295 253.9 C298.33 253.17 302.23 252.25 305 251.6 C307.77 250.95 309.43 250.7 311.6 250 C313.77 249.3 315.82 248.47 318 247.4 C320.18 246.33 322.7 244.8 324.7 243.6 C326.7 242.4 328.35 241.27 330 240.2 C331.65 239.13 333.83 237.7 334.6 237.2 L335.5 237.4 L335.6 254.2 L375 254.2" fill="none" stroke="#000" stroke-width="0.85" stroke-linejoin="round" />
<path d="M232.3 248.6 C232.7 248.1 233.8 246.48 234.7 245.6 C235.6 244.72 236.23 244.17 237.7 243.3 C239.17 242.43 241.57 241.15 243.5 240.4 C245.43 239.65 247.37 239.32 249.3 238.8 C251.23 238.28 253.32 237.87 255.1 237.3 C256.88 236.73 258.53 236.07 260 235.4 C261.47 234.73 262.57 233.98 263.9 233.3 C265.23 232.62 266.55 232.05 268 231.3 C269.45 230.55 270.93 229.82 272.6 228.8 C274.27 227.78 276.05 226.63 278 225.2 C279.95 223.77 282.3 221.83 284.3 220.2 C286.3 218.57 288.07 217.13 290 215.4 C291.93 213.67 293.9 211.8 295.9 209.8 C297.9 207.8 300.05 205.58 302 203.4 C303.95 201.22 305.82 198.97 307.6 196.7 C309.38 194.43 311.85 190.95 312.7 189.8 L312.8 189.8 L312.8 214.8 L370.4 214.8" fill="none" stroke="#000" stroke-width="1.05" stroke-linejoin="round" stroke-dasharray="2.3 2.3" />
<path d="M232.3 164.2 C232.47 164.53 232.97 165.27 233.3 166.2 C233.63 167.13 233.88 168.17 234.3 169.8 C234.72 171.43 235.27 173.7 235.8 176 C236.33 178.3 236.93 181.1 237.5 183.6 C238.07 186.1 238.65 188.73 239.2 191 C239.75 193.27 240.13 195.23 240.8 197.2 C241.47 199.17 242.27 201 243.2 202.8 C244.13 204.6 245.18 206.23 246.4 208 C247.62 209.77 249.05 211.68 250.5 213.4 C251.95 215.12 253.18 216.5 255.1 218.3 C257.02 220.1 259.57 222.28 262 224.2 C264.43 226.12 267.2 228.2 269.7 229.8 C272.2 231.4 274.57 232.57 277 233.8 C279.43 235.03 281.97 236.23 284.3 237.2 C286.63 238.17 288.58 238.83 291 239.6 C293.42 240.37 296.13 241.13 298.8 241.8 C301.47 242.47 304.13 243.03 307 243.6 C309.87 244.17 313 244.78 316 245.2 C319 245.62 321.78 245.87 325 246.1 C328.22 246.33 333.58 246.52 335.3 246.6 L335.5 260.6 C337.92 260.18 345.58 258.87 350 258.1 C354.42 257.33 357.83 256.7 362 256 C366.17 255.3 372.83 254.25 375 253.9" fill="none" stroke="#ff1a1a" stroke-width="0.85" stroke-linejoin="round" />
<path d="M232.3 198.6 C232.92 199.5 234.62 202.1 236 204 C237.38 205.9 239.02 208.03 240.6 210 C242.18 211.97 243.85 213.93 245.5 215.8 C247.15 217.67 248.9 219.53 250.5 221.2 C252.1 222.87 253.52 224.33 255.1 225.8 C256.68 227.27 258.35 228.65 260 230 C261.65 231.35 263.38 232.7 265 233.9 C266.62 235.1 267.87 236.12 269.7 237.2 C271.53 238.28 273.57 239.38 276 240.4 C278.43 241.42 281.8 242.5 284.3 243.3 C286.8 244.1 288.58 244.6 291 245.2 C293.42 245.8 296.47 246.37 298.8 246.9 C301.13 247.43 302.75 247.85 305 248.4 C307.25 248.95 311.08 249.9 312.3 250.2 L312.4 258.8 C315.33 257 323.73 251.87 330 248 C336.27 244.13 343.08 239.83 350 235.6 C356.92 231.37 367.92 224.77 371.5 222.6" fill="none" stroke="#ff1a1a" stroke-width="1.05" stroke-linejoin="round" stroke-dasharray="2.3 2.3" />
<line x1="284.8" y1="155.5" x2="299.6" y2="155.5" stroke="#000" stroke-width="0.85" />
<text x="302" y="157.7" font-family='"Liberation Serif", serif' font-size="6.68" font-weight="bold" fill="#000" text-anchor="start" stroke="#000" stroke-width="0.22" >W-heat capacity</text>
<line x1="284.8" y1="164" x2="299.6" y2="164" stroke="#000" stroke-width="1.05" stroke-dasharray="3.6 1.8"/>
<text x="302" y="166.2" font-family='"Liberation Serif", serif' font-size="6.68" font-weight="bold" fill="#000" text-anchor="start" stroke="#000" stroke-width="0.22" >Mo-heat capacity</text>
<line x1="284.8" y1="172.7" x2="299.6" y2="172.7" stroke="#ff1a1a" stroke-width="0.85" />
<text x="302" y="174.9" font-family='"Liberation Serif", serif' font-size="6.68" font-weight="bold" fill="#000" text-anchor="start" stroke="#000" stroke-width="0.22" >W-thermal conductivity</text>
<line x1="284.8" y1="181.3" x2="299.6" y2="181.3" stroke="#ff1a1a" stroke-width="1.05" stroke-dasharray="3.6 1.8"/>
<text x="302" y="183.5" font-family='"Liberation Serif", serif' font-size="6.68" font-weight="bold" fill="#000" text-anchor="start" stroke="#000" stroke-width="0.22" >Mo-thermal conductivity</text>
<text x="200.6" y="157" font-family='"Liberation Serif", serif' font-size="10.2" font-weight="bold" fill="#000" text-anchor="start" stroke="#000" stroke-width="0.22" >(d)</text>
<text x="300.6" y="290" font-family='"Liberation Serif", serif' font-size="7.3" font-weight="bold" fill="#000" text-anchor="middle" stroke="#000" stroke-width="0.22" >Temperature (K)</text>
<text x="211" y="210" font-family='"Liberation Serif", serif' font-size="7.3" font-weight="bold" fill="#000" text-anchor="middle" stroke="#000" stroke-width="0.22" transform="rotate(-90 211 210)" >Heat capacity (J/(kg·K))</text>
<text x="395.4" y="209.5" font-family='"Liberation Serif", serif' font-size="7.3" font-weight="bold" fill="#ff1a1a" text-anchor="middle" stroke="#ff1a1a" stroke-width="0.1" transform="rotate(-90 395.4 209.5)" >Thermal conductivity (W/(m·K))</text>
</g>
<g id="pe">
<path d="M422.8 150.8 L422.8 270.2 L572.3 270.2" fill="none" stroke="#000" stroke-width="0.75" stroke-linejoin="round" stroke-linecap="square"/>
<line x1="422.8" y1="150.8" x2="572.3" y2="150.8" stroke="#000" stroke-width="0.75" stroke-linecap="square"/>
<line x1="572.3" y1="150.8" x2="572.3" y2="270.2" stroke="#ff1a1a" stroke-width="0.75" stroke-linecap="square"/>
<line x1="422.8" y1="270.2" x2="422.8" y2="272.1" stroke="#000" stroke-width="0.75" />
<line x1="422.8" y1="150.8" x2="422.8" y2="152.7" stroke="#000" stroke-width="0.75" />
<text x="422.8" y="278.5" font-family='"Liberation Serif", serif' font-size="5.25" font-weight="bold" fill="#000" text-anchor="middle" stroke="#000" stroke-width="0.16" >0</text>
<line x1="441.49" y1="270.2" x2="441.49" y2="271.3" stroke="#000" stroke-width="0.75" />
<line x1="441.49" y1="150.8" x2="441.49" y2="151.9" stroke="#000" stroke-width="0.75" />
<line x1="460.18" y1="270.2" x2="460.18" y2="272.1" stroke="#000" stroke-width="0.75" />
<line x1="460.18" y1="150.8" x2="460.18" y2="152.7" stroke="#000" stroke-width="0.75" />
<text x="460.18" y="278.5" font-family='"Liberation Serif", serif' font-size="5.25" font-weight="bold" fill="#000" text-anchor="middle" stroke="#000" stroke-width="0.16" >1000</text>
<line x1="478.86" y1="270.2" x2="478.86" y2="271.3" stroke="#000" stroke-width="0.75" />
<line x1="478.86" y1="150.8" x2="478.86" y2="151.9" stroke="#000" stroke-width="0.75" />
<line x1="497.55" y1="270.2" x2="497.55" y2="272.1" stroke="#000" stroke-width="0.75" />
<line x1="497.55" y1="150.8" x2="497.55" y2="152.7" stroke="#000" stroke-width="0.75" />
<text x="497.55" y="278.5" font-family='"Liberation Serif", serif' font-size="5.25" font-weight="bold" fill="#000" text-anchor="middle" stroke="#000" stroke-width="0.16" >2000</text>
<line x1="516.24" y1="270.2" x2="516.24" y2="271.3" stroke="#000" stroke-width="0.75" />
<line x1="516.24" y1="150.8" x2="516.24" y2="151.9" stroke="#000" stroke-width="0.75" />
<line x1="534.92" y1="270.2" x2="534.92" y2="272.1" stroke="#000" stroke-width="0.75" />
<line x1="534.92" y1="150.8" x2="534.92" y2="152.7" stroke="#000" stroke-width="0.75" />
<text x="534.92" y="278.5" font-family='"Liberation Serif", serif' font-size="5.25" font-weight="bold" fill="#000" text-anchor="middle" stroke="#000" stroke-width="0.16" >3000</text>
<line x1="553.61" y1="270.2" x2="553.61" y2="271.3" stroke="#000" stroke-width="0.75" />
<line x1="553.61" y1="150.8" x2="553.61" y2="151.9" stroke="#000" stroke-width="0.75" />
<line x1="572.3" y1="270.2" x2="572.3" y2="272.1" stroke="#000" stroke-width="0.75" />
<line x1="572.3" y1="150.8" x2="572.3" y2="152.7" stroke="#000" stroke-width="0.75" />
<text x="572.3" y="278.5" font-family='"Liberation Serif", serif' font-size="5.25" font-weight="bold" fill="#000" text-anchor="middle" stroke="#000" stroke-width="0.16" >4000</text>
<line x1="422.8" y1="150.8" x2="420.9" y2="150.8" stroke="#000" stroke-width="0.75" />
<text x="418.3" y="152.6" font-family='"Liberation Serif", serif' font-size="5.25" font-weight="bold" fill="#000" text-anchor="end" stroke="#000" stroke-width="0.16" >500</text>
<line x1="422.8" y1="174.68" x2="420.9" y2="174.68" stroke="#000" stroke-width="0.75" />
<text x="418.3" y="176.48" font-family='"Liberation Serif", serif' font-size="5.25" font-weight="bold" fill="#000" text-anchor="end" stroke="#000" stroke-width="0.16" >400</text>
<line x1="422.8" y1="198.56" x2="420.9" y2="198.56" stroke="#000" stroke-width="0.75" />
<text x="418.3" y="200.36" font-family='"Liberation Serif", serif' font-size="5.25" font-weight="bold" fill="#000" text-anchor="end" stroke="#000" stroke-width="0.16" >300</text>
<line x1="422.8" y1="222.44" x2="420.9" y2="222.44" stroke="#000" stroke-width="0.75" />
<text x="418.3" y="224.24" font-family='"Liberation Serif", serif' font-size="5.25" font-weight="bold" fill="#000" text-anchor="end" stroke="#000" stroke-width="0.16" >200</text>
<line x1="422.8" y1="246.32" x2="420.9" y2="246.32" stroke="#000" stroke-width="0.75" />
<text x="418.3" y="248.12" font-family='"Liberation Serif", serif' font-size="5.25" font-weight="bold" fill="#000" text-anchor="end" stroke="#000" stroke-width="0.16" >100</text>
<line x1="422.8" y1="270.2" x2="420.9" y2="270.2" stroke="#000" stroke-width="0.75" />
<text x="418.3" y="272" font-family='"Liberation Serif", serif' font-size="5.25" font-weight="bold" fill="#000" text-anchor="end" stroke="#000" stroke-width="0.16" >0</text>
<line x1="422.8" y1="162.74" x2="421.7" y2="162.74" stroke="#000" stroke-width="0.75" />
<line x1="422.8" y1="186.62" x2="421.7" y2="186.62" stroke="#000" stroke-width="0.75" />
<line x1="422.8" y1="210.5" x2="421.7" y2="210.5" stroke="#000" stroke-width="0.75" />
<line x1="422.8" y1="234.38" x2="421.7" y2="234.38" stroke="#000" stroke-width="0.75" />
<line x1="422.8" y1="258.26" x2="421.7" y2="258.26" stroke="#000" stroke-width="0.75" />
<line x1="572.3" y1="150.8" x2="574.2" y2="150.8" stroke="#ff1a1a" stroke-width="0.75" />
<text x="575.6" y="152.6" font-family='"Liberation Serif", serif' font-size="5.25" font-weight="bold" fill="#ff1a1a" text-anchor="start" stroke="#ff1a1a" stroke-width="0.08" >0.7</text>
<line x1="572.3" y1="177.15" x2="574.2" y2="177.15" stroke="#ff1a1a" stroke-width="0.75" />
<text x="575.6" y="178.95" font-family='"Liberation Serif", serif' font-size="5.25" font-weight="bold" fill="#ff1a1a" text-anchor="start" stroke="#ff1a1a" stroke-width="0.08" >0.6</text>
<line x1="572.3" y1="203.5" x2="574.2" y2="203.5" stroke="#ff1a1a" stroke-width="0.75" />
<text x="575.6" y="205.3" font-family='"Liberation Serif", serif' font-size="5.25" font-weight="bold" fill="#ff1a1a" text-anchor="start" stroke="#ff1a1a" stroke-width="0.08" >0.5</text>
<line x1="572.3" y1="229.85" x2="574.2" y2="229.85" stroke="#ff1a1a" stroke-width="0.75" />
<text x="575.6" y="231.65" font-family='"Liberation Serif", serif' font-size="5.25" font-weight="bold" fill="#ff1a1a" text-anchor="start" stroke="#ff1a1a" stroke-width="0.08" >0.4</text>
<line x1="572.3" y1="256.2" x2="574.2" y2="256.2" stroke="#ff1a1a" stroke-width="0.75" />
<text x="575.6" y="258" font-family='"Liberation Serif", serif' font-size="5.25" font-weight="bold" fill="#ff1a1a" text-anchor="start" stroke="#ff1a1a" stroke-width="0.08" >0.3</text>
<line x1="572.3" y1="163.97" x2="573.4" y2="163.97" stroke="#ff1a1a" stroke-width="0.75" />
<line x1="572.3" y1="190.32" x2="573.4" y2="190.32" stroke="#ff1a1a" stroke-width="0.75" />
<line x1="572.3" y1="216.67" x2="573.4" y2="216.67" stroke="#ff1a1a" stroke-width="0.75" />
<line x1="572.3" y1="243.02" x2="573.4" y2="243.02" stroke="#ff1a1a" stroke-width="0.75" />
<line x1="572.3" y1="269.37" x2="573.4" y2="269.37" stroke="#ff1a1a" stroke-width="0.75" />
<line x1="592.4" y1="150.8" x2="592.4" y2="270.2" stroke="#1a1aff" stroke-width="0.75" stroke-linecap="square"/>
<line x1="592.4" y1="150.8" x2="594.3" y2="150.8" stroke="#1a1aff" stroke-width="0.75" />
<text x="596.5" y="152.6" font-family='"Liberation Serif", serif' font-size="5.25" font-weight="bold" fill="#1a1aff" text-anchor="start" stroke="#1a1aff" stroke-width="0.08" >1400</text>
<line x1="592.4" y1="167.86" x2="594.3" y2="167.86" stroke="#1a1aff" stroke-width="0.75" />
<text x="596.5" y="169.66" font-family='"Liberation Serif", serif' font-size="5.25" font-weight="bold" fill="#1a1aff" text-anchor="start" stroke="#1a1aff" stroke-width="0.08" >1200</text>
<line x1="592.4" y1="184.92" x2="594.3" y2="184.92" stroke="#1a1aff" stroke-width="0.75" />
<text x="596.5" y="186.72" font-family='"Liberation Serif", serif' font-size="5.25" font-weight="bold" fill="#1a1aff" text-anchor="start" stroke="#1a1aff" stroke-width="0.08" >1000</text>
<line x1="592.4" y1="201.98" x2="594.3" y2="201.98" stroke="#1a1aff" stroke-width="0.75" />
<text x="596.5" y="203.78" font-family='"Liberation Serif", serif' font-size="5.25" font-weight="bold" fill="#1a1aff" text-anchor="start" stroke="#1a1aff" stroke-width="0.08" >800</text>
<line x1="592.4" y1="219.04" x2="594.3" y2="219.04" stroke="#1a1aff" stroke-width="0.75" />
<text x="596.5" y="220.84" font-family='"Liberation Serif", serif' font-size="5.25" font-weight="bold" fill="#1a1aff" text-anchor="start" stroke="#1a1aff" stroke-width="0.08" >600</text>
<line x1="592.4" y1="236.1" x2="594.3" y2="236.1" stroke="#1a1aff" stroke-width="0.75" />
<text x="596.5" y="237.9" font-family='"Liberation Serif", serif' font-size="5.25" font-weight="bold" fill="#1a1aff" text-anchor="start" stroke="#1a1aff" stroke-width="0.08" >400</text>
<line x1="592.4" y1="253.16" x2="594.3" y2="253.16" stroke="#1a1aff" stroke-width="0.75" />
<text x="596.5" y="254.96" font-family='"Liberation Serif", serif' font-size="5.25" font-weight="bold" fill="#1a1aff" text-anchor="start" stroke="#1a1aff" stroke-width="0.08" >200</text>
<line x1="592.4" y1="270.22" x2="594.3" y2="270.22" stroke="#1a1aff" stroke-width="0.75" />
<text x="596.5" y="272.02" font-family='"Liberation Serif", serif' font-size="5.25" font-weight="bold" fill="#1a1aff" text-anchor="start" stroke="#1a1aff" stroke-width="0.08" >0</text>
<line x1="592.4" y1="159.33" x2="593.5" y2="159.33" stroke="#1a1aff" stroke-width="0.75" />
<line x1="592.4" y1="176.39" x2="593.5" y2="176.39" stroke="#1a1aff" stroke-width="0.75" />
<line x1="592.4" y1="193.45" x2="593.5" y2="193.45" stroke="#1a1aff" stroke-width="0.75" />
<line x1="592.4" y1="210.51" x2="593.5" y2="210.51" stroke="#1a1aff" stroke-width="0.75" />
<line x1="592.4" y1="227.57" x2="593.5" y2="227.57" stroke="#1a1aff" stroke-width="0.75" />
<line x1="592.4" y1="244.63" x2="593.5" y2="244.63" stroke="#1a1aff" stroke-width="0.75" />
<line x1="592.4" y1="261.69" x2="593.5" y2="261.69" stroke="#1a1aff" stroke-width="0.75" />
<path d="M434.3 174.6 C436.08 175.03 441.22 176.17 445 177.2 C448.78 178.23 452.83 179.4 457 180.8 C461.17 182.2 466.17 184.17 470 185.6 C473.83 187.03 476.67 188.18 480 189.4 C483.33 190.62 487.17 191.9 490 192.9 C492.83 193.9 495.05 194.65 497 195.4 C498.95 196.15 500.37 196.72 501.7 197.4 C503.03 198.08 503.9 198.68 505 199.5 C506.1 200.32 506.72 200.82 508.3 202.3 C509.88 203.78 512.45 206.28 514.5 208.4 C516.55 210.52 518.85 212.83 520.6 215 C522.35 217.17 523.62 219.13 525 221.4 C526.38 223.67 527.48 225.8 528.9 228.6 C530.32 231.4 531.92 235 533.5 238.2 C535.08 241.4 536.73 244.87 538.4 247.8 C540.07 250.73 541.67 253.3 543.5 255.8 C545.33 258.3 547.65 260.97 549.4 262.8 C551.15 264.63 552.4 265.63 554 266.8 C555.6 267.97 558.17 269.3 559 269.8" fill="none" stroke="#000" stroke-width="0.85" stroke-linejoin="round" />
<path d="M434.3 191.4 C436.08 191.93 441.22 193.33 445 194.6 C448.78 195.87 452.38 197.23 457 199 C461.62 200.77 467.8 202.97 472.7 205.2 C477.6 207.43 482.85 210.37 486.4 212.4 C489.95 214.43 491.72 215.6 494 217.4 C496.28 219.2 498.1 221.17 500.1 223.2 C502.1 225.23 504.17 227.33 506 229.6 C507.83 231.87 509.52 234.23 511.1 236.8 C512.68 239.37 514.13 242.27 515.5 245 C516.87 247.73 517.97 250.5 519.3 253.2 C520.63 255.9 522.13 258.83 523.5 261.2 C524.87 263.57 526.5 265.93 527.5 267.4 C528.5 268.87 529.17 269.57 529.5 270" fill="none" stroke="#000" stroke-width="1.05" stroke-linejoin="round" stroke-dasharray="2.3 2.3" />
<path d="M434.3 261.6 C436.92 261.33 444.05 260.7 450 260 C455.95 259.3 464.17 258.17 470 257.4 C475.83 256.63 480.43 256.07 485 255.4 C489.57 254.73 493.57 254.1 497.4 253.4 C501.23 252.7 504.82 252 508 251.2 C511.18 250.4 514.17 249.47 516.5 248.6 C518.83 247.73 520.17 247.03 522 246 C523.83 244.97 525.92 243.6 527.5 242.4 C529.08 241.2 530.13 240.2 531.5 238.8 C532.87 237.4 534.32 235.77 535.7 234 C537.08 232.23 538.43 230.23 539.8 228.2 C541.17 226.17 542.53 223.87 543.9 221.8 C545.27 219.73 546.63 217.63 548 215.8 C549.37 213.97 550.68 212.33 552.1 210.8 C553.52 209.27 554.98 207.8 556.5 206.6 C558.02 205.4 560.42 204.1 561.2 203.6" fill="none" stroke="#ff1a1a" stroke-width="0.85" stroke-linejoin="round" />
<path d="M434.3 238.2 C434.83 238.63 436.38 240.03 437.5 240.8 C438.62 241.57 439.62 242.3 441 242.8 C442.38 243.3 444.13 243.73 445.8 243.8 C447.47 243.87 449.13 243.63 451 243.2 C452.87 242.77 454.83 242.07 457 241.2 C459.17 240.33 461.5 239.3 464 238 C466.5 236.7 469.33 234.87 472 233.4 C474.67 231.93 475.77 231.37 480 229.2 C484.23 227.03 491.57 223.43 497.4 220.4 C503.23 217.37 509.57 213.9 515 211 C520.43 208.1 527.5 204.33 530 203" fill="none" stroke="#ff1a1a" stroke-width="1.05" stroke-linejoin="round" stroke-dasharray="2.3 2.3" />
<path d="M434.3 158.2 C434.92 160 436.55 164.6 438 169 C439.45 173.4 441.25 179.2 443 184.6 C444.75 190 447 197 448.5 201.4 C450 205.8 450.67 207.67 452 211 C453.33 214.33 454.8 217.97 456.5 221.4 C458.2 224.83 459.95 227.83 462.2 231.6 C464.45 235.37 467.33 240.4 470 244 C472.67 247.6 475.87 250.87 478.2 253.2 C480.53 255.53 482.17 256.65 484 258 C485.83 259.35 487.2 260.3 489.2 261.3 C491.2 262.3 493.72 263.28 496 264 C498.28 264.72 500.07 265.13 502.9 265.6 C505.73 266.07 509.35 266.47 513 266.8 C516.65 267.13 520.3 267.3 524.8 267.6 C529.3 267.9 534.3 268.23 540 268.6 C545.7 268.97 555.83 269.6 559 269.8" fill="none" stroke="#1a1aff" stroke-width="0.85" stroke-linejoin="round" />
<path d="M434.3 223 C436.08 224.73 441.22 229.95 445 233.4 C448.78 236.85 452.83 240.35 457 243.7 C461.17 247.05 466.17 250.88 470 253.5 C473.83 256.12 477.27 257.85 480 259.4 C482.73 260.95 483.9 261.73 486.4 262.8 C488.9 263.87 492.25 265 495 265.8 C497.75 266.6 499.77 266.93 502.9 267.6 C506.03 268.27 511.98 269.43 513.8 269.8" fill="none" stroke="#1a1aff" stroke-width="1.05" stroke-linejoin="round" stroke-dasharray="2.3 2.3" />
<line x1="492" y1="155.5" x2="506.2" y2="155.5" stroke="#000" stroke-width="0.85" />
<text x="508.8" y="157.7" font-family='"Liberation Serif", serif' font-size="6.68" font-weight="bold" fill="#000" text-anchor="start" stroke="#000" stroke-width="0.22" >W-Young's modulus</text>
<line x1="492" y1="164" x2="506.2" y2="164" stroke="#000" stroke-width="1.05" stroke-dasharray="3.6 1.8"/>
<text x="508.8" y="166.2" font-family='"Liberation Serif", serif' font-size="6.68" font-weight="bold" fill="#000" text-anchor="start" stroke="#000" stroke-width="0.22" >Mo-Young's modulus</text>
<line x1="492" y1="172.6" x2="506.2" y2="172.6" stroke="#ff1a1a" stroke-width="0.85" />
<text x="508.8" y="174.8" font-family='"Liberation Serif", serif' font-size="6.68" font-weight="bold" fill="#000" text-anchor="start" stroke="#000" stroke-width="0.22" >W-Poisson's ratio</text>
<line x1="492" y1="181.1" x2="506.2" y2="181.1" stroke="#ff1a1a" stroke-width="1.05" stroke-dasharray="3.6 1.8"/>
<text x="508.8" y="183.3" font-family='"Liberation Serif", serif' font-size="6.68" font-weight="bold" fill="#000" text-anchor="start" stroke="#000" stroke-width="0.22" >Mo-Poisson's ratio</text>
<line x1="492" y1="189.6" x2="506.2" y2="189.6" stroke="#1a1aff" stroke-width="0.85" />
<text x="508.8" y="191.8" font-family='"Liberation Serif", serif' font-size="6.68" font-weight="bold" fill="#000" text-anchor="start" stroke="#000" stroke-width="0.22" >W-yield strength</text>
<line x1="492" y1="198.1" x2="506.2" y2="198.1" stroke="#1a1aff" stroke-width="1.05" stroke-dasharray="3.6 1.8"/>
<text x="508.8" y="200.3" font-family='"Liberation Serif", serif' font-size="6.68" font-weight="bold" fill="#000" text-anchor="start" stroke="#000" stroke-width="0.22" >Mo-yield strength</text>
<text x="399.4" y="157" font-family='"Liberation Serif", serif' font-size="10.2" font-weight="bold" fill="#000" text-anchor="start" stroke="#000" stroke-width="0.22" >(e)</text>
<text x="497.6" y="290" font-family='"Liberation Serif", serif' font-size="7.3" font-weight="bold" fill="#000" text-anchor="middle" stroke="#000" stroke-width="0.22" >Temperature (K)</text>
<text x="408.8" y="210.8" font-family='"Liberation Serif", serif' font-size="7.3" font-weight="bold" fill="#000" text-anchor="middle" stroke="#000" stroke-width="0.22" transform="rotate(-90 408.8 210.8)" >Young's modulus (GPa)</text>
<text x="589.1" y="210.4" font-family='"Liberation Serif", serif' font-size="7.3" font-weight="bold" fill="#ff1a1a" text-anchor="middle" stroke="#ff1a1a" stroke-width="0.1" transform="rotate(-90 589.1 210.4)" >Poisson's ratio</text>
<text x="614.5" y="209.4" font-family='"Liberation Serif", serif' font-size="7.3" font-weight="bold" fill="#1a1aff" text-anchor="middle" stroke="#1a1aff" stroke-width="0.1" transform="rotate(-90 614.5 209.4)" >Yield strength (MPa)</text>
</g>
</svg>
</body></html>
